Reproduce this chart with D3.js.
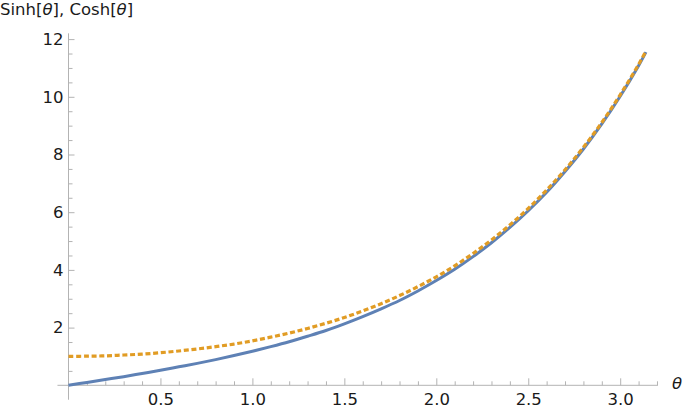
<!DOCTYPE html>
<html>
<head>
<meta charset="utf-8">
<script src="https://cdn.jsdelivr.net/npm/d3@7"></script>
<style>
  body { margin: 0; background: #fff; }
  svg text { font-family: "DejaVu Sans", "Liberation Sans", Arial, sans-serif; }
</style>
</head>
<body>
<div id="chart"></div>
<script>
// Values
const theta = [0, 0.1, 0.2, 0.3, 0.4, 0.5, 0.6, 0.7, 0.8, 0.9, 1.0, 1.1, 1.2, 1.3, 1.4, 1.5,
               1.6, 1.7, 1.8, 1.9, 2.0, 2.1, 2.2, 2.3, 2.4, 2.5, 2.6, 2.7, 2.8, 2.9, 3.0, 3.1, 3.14];
const sinhValues = [0, 0.10, 0.20, 0.30, 0.41, 0.52, 0.64, 0.76, 0.89, 1.03, 1.18, 1.34, 1.51, 1.70, 1.90, 2.13,
                    2.38, 2.65, 2.94, 3.27, 3.63, 4.02, 4.46, 4.94, 5.47, 6.05, 6.69, 7.41, 8.19, 9.06, 10.02, 11.08, 11.55];
const coshValues = [1.00, 1.01, 1.02, 1.05, 1.08, 1.13, 1.19, 1.26, 1.34, 1.43, 1.54, 1.67, 1.81, 1.97, 2.15, 2.35,
                    2.58, 2.83, 3.11, 3.42, 3.76, 4.14, 4.57, 5.04, 5.56, 6.13, 6.77, 7.47, 8.25, 9.11, 10.07, 11.12, 11.59];
const xMajorTicks = [0.5, 1.0, 1.5, 2.0, 2.5, 3.0];
const yMajorTicks = [2, 4, 6, 8, 10, 12];

const width = 685, height = 409;

const svg = d3.select("#chart")
    .append("svg")
    .attr("width", width)
    .attr("height", height);

// Scales
const xScale = d3.scaleLinear()
    .domain([0, 3.2])
    .range([68.5, 68.5 + 3.2 * 183.9]);

const yScale = d3.scaleLinear()
    .domain([0, 12])
    .range([385.3, 39.1]);

const axisColor = "#b3b3b3";

// Minor ticks (x every 0.1, y every 0.5)
const xMinor = d3.range(1, 33).map(i => i / 10).filter(v => !xMajorTicks.some(m => Math.abs(m - v) < 1e-6));
const yMinor = d3.range(1, 25).map(i => i / 2).filter(v => !yMajorTicks.includes(v));

// x-axis
const xAxisG = svg.append("g")
    .attr("class", "axis x-axis")
    .attr("transform", `translate(0, ${yScale(0)})`);

xAxisG.append("line")
    .attr("x1", xScale(-0.06)).attr("x2", xScale(3.205))
    .attr("stroke", axisColor);

xAxisG.append("g")
    .call(d3.axisBottom(xScale).tickValues(xMinor).tickSize(-4).tickFormat(""))
    .call(g => g.select(".domain").remove());

xAxisG.append("g")
    .call(d3.axisBottom(xScale).tickValues(xMajorTicks).tickSize(-7).tickPadding(8)
        .tickFormat(d3.format(".1f")))
    .call(g => g.select(".domain").remove());

// y-axis
const yAxisG = svg.append("g")
    .attr("class", "axis y-axis")
    .attr("transform", `translate(${xScale(0)}, 0)`);

yAxisG.append("line")
    .attr("y1", yScale(-0.5)).attr("y2", yScale(12.2))
    .attr("stroke", axisColor);

yAxisG.append("g")
    .call(d3.axisLeft(yScale).tickValues(yMinor).tickSize(-4).tickFormat(""))
    .call(g => g.select(".domain").remove());

yAxisG.append("g")
    .call(d3.axisLeft(yScale).tickValues(yMajorTicks).tickSize(-6).tickPadding(5))
    .call(g => g.select(".domain").remove());

svg.selectAll(".axis line").attr("stroke", axisColor);
svg.selectAll(".axis .tick text")
    .attr("fill", "#1a1a1a")
    .style("font-size", "16.5px");

// Curves
const sinhData = theta.map((t, i) => ({ t: t, v: sinhValues[i] }));
const coshData = theta.map((t, i) => ({ t: t, v: coshValues[i] }));

const line = d3.line()
    .x(d => xScale(d.t))
    .y(d => yScale(d.v))
    .curve(d3.curveCatmullRom);

svg.append("path")
    .datum(sinhData)
    .attr("fill", "none")
    .attr("stroke", "#5e81b5")
    .attr("stroke-width", 3)
    .attr("d", line);

svg.append("path")
    .datum(coshData)
    .attr("fill", "none")
    .attr("stroke", "#e19c24")
    .attr("stroke-width", 3.2)
    .attr("stroke-dasharray", "5,2.7")
    .attr("d", line);

// Axis labels
const yLabel = svg.append("text")
    .attr("x", 0)
    .attr("y", 15)
    .attr("fill", "#1a1a1a")
    .style("font-size", "16.5px");
yLabel.append("tspan").text("Sinh[");
yLabel.append("tspan").style("font-style", "italic").text("θ");
yLabel.append("tspan").text("], Cosh[");
yLabel.append("tspan").style("font-style", "italic").text("θ");
yLabel.append("tspan").text("]");

svg.append("text")
    .attr("x", 672)
    .attr("y", 389)
    .attr("fill", "#1a1a1a")
    .style("font-size", "16.5px")
    .style("font-style", "italic")
    .text("θ");
</script>
</body>
</html>
